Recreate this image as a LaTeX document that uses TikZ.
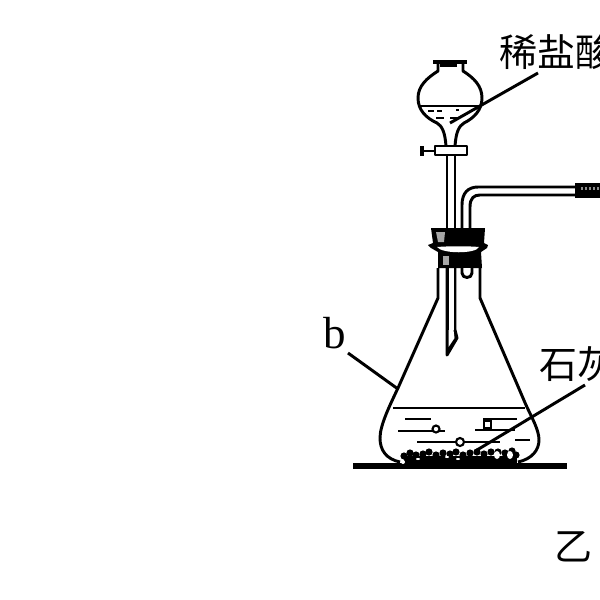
\documentclass[tikz,border=0pt]{standalone}
\usepackage{fontspec}
\setmainfont{Liberation Serif}
\newfontfamily\cjk{Noto Sans CJK SC}
\tikzset{
    glass/.style={line width=2.1pt,line join=round},
    mark line/.style={line width=1.5pt},
    leader/.style={line width=2.1pt},
    cjklabel/.style={inner sep=0pt,anchor=west,font=\cjk\fontsize{27}{30}\selectfont},
    greypatch/.style={fill=black!35,draw=none}
}
\begin{document}
\begin{tikzpicture}[x=0.025cm,y=-0.025cm]
    \useasboundingbox (0,0) rectangle (600,600);
    % funnel
    \draw[glass] (438,63)--(438,71) .. controls (427,78) and (418,86) .. (418,98)
        .. controls (418,110) and (426,118) .. (437,123) .. controls (442,126) and (445,132) .. (446,146);
    \draw[glass] (463,63)--(463,71) .. controls (474,78) and (482,86) .. (482,98)
        .. controls (482,110) and (474,118) .. (464,123) .. controls (459,126) and (456,132) .. (455,146);
    \draw[line width=2.4pt] (433,62)--(467,62);
    \fill (440,61) rectangle (457,67);
    \draw[glass] (420,106)--(480,106);
    \foreach \xa/\xb/\y in {428/434/111,437/442/111,456/459/110,436/444/118,450/460/118}
    {
        \draw[mark line] (\xa,\y)--(\xb,\y);
    }
    % stopcock
    \draw[glass] (435,146) rectangle (467,155);
    \draw[glass] (422,151)--(435,151);
    \draw[line width=2.8pt] (422,146)--(422,156);
    % stem
    \foreach \x in {447,455}
    {
        \draw[glass] (\x,155)--(\x,232);
    }
    \draw[glass,fill=black] (447,268)--(447,355)--(457,338)--(455,330)--(455,268);
    \fill[white] (448.5,268) rectangle (453.5,330);
    \fill[white] (448.5,330)--(453.5,330)--(454.5,338)--(448.5,347)--cycle;
    % bent tube
    \draw[glass] (462,232)--(462,205) .. controls (462,193) and (468,187) .. (478,187)--(576,187);
    \draw[glass] (470,232)--(470,207) .. controls (470,198) and (474,195) .. (480,195)--(576,195);
    \fill (575,183) rectangle (600,198);
    \foreach \x in {581,585,...,597}
    {
        \fill[black!45] (\x,187) rectangle (\x+2,190);
    }
    % stopper
    \fill (431,228)--(485,228)--(484,243)--(488,245)--(487,248)--(481,252)--(482,268)--(438,268)--(438,252)--(431,248)--(428,245)--(433,243)--cycle;
    \fill[white] (437,247) .. controls (450,246) and (468,246) .. (479,247) .. controls (476,254) and (442,254) .. (437,247)--cycle;
    \fill[greypatch] (436,232)--(445,232)--(444,242)--(438,242)--cycle;
    \fill[greypatch] (443,256) rectangle (449,265);
    \draw[glass,fill=white] (462,268)--(462,273) .. controls (462,279) and (472,279) .. (472,273)--(472,268);
    % flask
    \draw[glass] (438,268)--(438,298)--(398,388) .. controls (390,405) and (380,425) .. (380,438)
        .. controls (380,450) and (386,459) .. (400,462);
    \draw[glass] (480,268)--(480,298)--(526,405) .. controls (532,418) and (539,430) .. (539,440)
        .. controls (539,450) and (532,459) .. (518,462);
    \draw[glass] (393,408)--(525,408);
    \draw[line width=3.6pt] (353,466)--(567,466);
    % liquid
    \foreach \xa/\xb/\y in {405/431/419,398/445/431,483/517/419,475/515/430,417/500/442,515/530/440}
    {
        \draw[mark line] (\xa,\y)--(\xb,\y);
    }
    \foreach \x/\y/\r in {436/429/3.5,460/442/4}
    {
        \draw[mark line,fill=white] (\x,\y) circle (\r);
    }
    \draw[mark line,fill=white] (484,421) rectangle (491,428);
    % stones
    \fill (404,456) rectangle (517,465);
    \foreach \x/\y in {404/456,410/453,416/455,423/454,429/452,436/455,443/453,450/454,456/452,463/455,470/453,477/452,484/454,491/452,498/452,505/453,512/451,516/455}
    {
        \fill (\x,\y) circle (3.6);
    }
    \foreach \x/\y/\a/\b in {497/455/3/4,510/455/3/4,447/457/2/1,458/459/2/1,418/459/2/1,403/462/2/2}
    {
        \fill[white] (\x,\y) ellipse (\a cm*0.025 and \b cm*0.025);
    }
    % labels
    \node[cjklabel] (acid) at (499,52) {稀盐酸};
    \node[cjklabel] (stone) at (539,364) {石灰石};
    \node[inner sep=0pt,font=\fontsize{32}{34}\selectfont] (flaskb) at (335,333) {b};
    \node[cjklabel] (yi) at (554,547) {乙};
    \coordinate (acidend) at (450,123);
    \coordinate (acidstart) at (538,73);
    \coordinate (flaskend) at (398,389);
    \coordinate (flaskstart) at (348,353);
    \coordinate (stoneend) at (477,450);
    \coordinate (stonestart) at (585,385);
    \draw[leader] (acidstart)--(acidend);
    \draw[leader] (flaskstart)--(flaskend);
    \draw[leader] (stonestart)--(stoneend);
\end{tikzpicture}
\end{document}
